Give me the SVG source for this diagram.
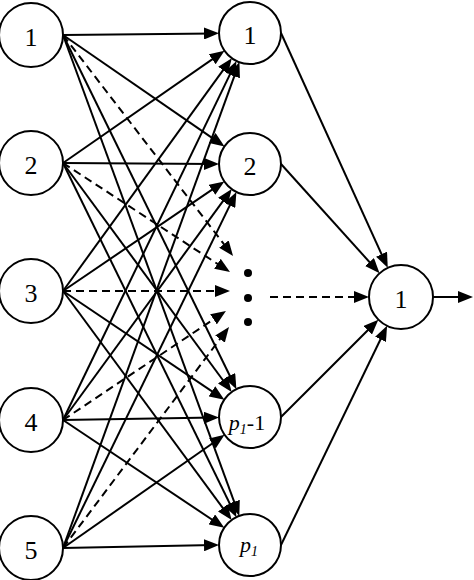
<svg xmlns="http://www.w3.org/2000/svg" width="474" height="580" viewBox="0 0 474 580">
<defs>
<marker id="ah" markerUnits="userSpaceOnUse" markerWidth="16" markerHeight="12" refX="10" refY="6" orient="auto">
<path d="M0,0 L15,6 L0,12 z" fill="#000"/>
</marker>
<style>
.n{fill:#fff;stroke:#000;stroke-width:2}
.t{font-family:"Liberation Serif","Times New Roman",serif;font-size:26px;text-anchor:middle;fill:#000}
.p{font-family:"Liberation Serif","Times New Roman",serif;font-size:22px;text-anchor:middle;fill:#000}
.e line{stroke:#000;stroke-width:2;marker-end:url(#ah)}
.e line.d{stroke-dasharray:8 5}
.dot{fill:#000}
</style>
</defs>
<rect width="474" height="580" fill="#fff"/>
<g id="connectors" class="e">
<line x1="63" y1="35" x2="214" y2="33.4"/>
<line x1="63" y1="35" x2="220.4" y2="143.6"/>
<line x1="63" y1="35" x2="234.2" y2="384.7"/>
<line x1="63" y1="35" x2="237.6" y2="511.2"/>
<line x1="63" y1="163" x2="220.4" y2="53.6"/>
<line x1="63" y1="163" x2="214" y2="164"/>
<line x1="63" y1="163" x2="228.7" y2="388"/>
<line x1="63" y1="163" x2="234.2" y2="512.7"/>
<line x1="63" y1="291" x2="228.9" y2="62.2"/>
<line x1="63" y1="291" x2="220.2" y2="184.2"/>
<line x1="63" y1="291" x2="220.2" y2="396.9"/>
<line x1="63" y1="291" x2="228.7" y2="516"/>
<line x1="63" y1="420" x2="234.3" y2="65.4"/>
<line x1="63" y1="420" x2="228.8" y2="193.1"/>
<line x1="63" y1="420" x2="214" y2="417.6"/>
<line x1="63" y1="420" x2="220.1" y2="525"/>
<line x1="63" y1="548" x2="237.7" y2="66.8"/>
<line x1="63" y1="548" x2="234.2" y2="196.4"/>
<line x1="63" y1="548" x2="220.5" y2="437.7"/>
<line x1="63" y1="548" x2="214" y2="545.1"/>
<line class="d" x1="63" y1="35" x2="230" y2="252"/>
<line class="d" x1="63" y1="163" x2="225.8" y2="269.3"/>
<line class="d" x1="63" y1="291" x2="225" y2="291"/>
<line class="d" x1="63" y1="420" x2="221.8" y2="313.8"/>
<line class="d" x1="63" y1="548" x2="226" y2="331"/>
<line x1="281" y1="33" x2="385.7" y2="263.3"/>
<line x1="281" y1="164" x2="376.2" y2="269.5"/>
<line x1="281" y1="417" x2="374.8" y2="323.2"/>
<line x1="281" y1="545" x2="384.9" y2="330.3"/>
<line class="d" x1="270" y1="297" x2="364" y2="297"/>
<line x1="433" y1="297" x2="468" y2="297"/>
</g>
<g id="in1"><circle class="n" cx="31" cy="35" r="32"/><text class="t" x="31" y="46">1</text></g>
<g id="in2"><circle class="n" cx="31" cy="163" r="32"/><text class="t" x="31" y="174">2</text></g>
<g id="in3"><circle class="n" cx="31" cy="291" r="32"/><text class="t" x="31" y="302">3</text></g>
<g id="in4"><circle class="n" cx="31" cy="420" r="32"/><text class="t" x="31" y="431">4</text></g>
<g id="in5"><circle class="n" cx="31" cy="548" r="32"/><text class="t" x="31" y="559">5</text></g>
<g id="h1"><circle class="n" cx="250" cy="33" r="31"/><text class="t" x="250" y="44">1</text></g>
<g id="h2"><circle class="n" cx="250" cy="164" r="31"/><text class="t" x="250" y="175">2</text></g>
<g id="hdots"><circle class="dot" cx="248" cy="273" r="4"/><circle class="dot" cx="248" cy="298" r="4"/><circle class="dot" cx="248" cy="322" r="4"/></g>
<g id="hp1m1"><circle class="n" cx="250" cy="417" r="31"/><text class="p" x="247" y="430"><tspan font-style="italic">p</tspan><tspan font-style="italic" font-size="14" dy="4">1</tspan><tspan dy="-4">-1</tspan></text></g>
<g id="hp1"><circle class="n" cx="250" cy="545" r="31"/><text class="p" x="249" y="552"><tspan font-style="italic">p</tspan><tspan font-style="italic" font-size="14" dy="4">1</tspan></text></g>
<g id="out"><circle class="n" cx="401" cy="297" r="32"/><text class="t" x="401" y="308">1</text></g>
</svg>
